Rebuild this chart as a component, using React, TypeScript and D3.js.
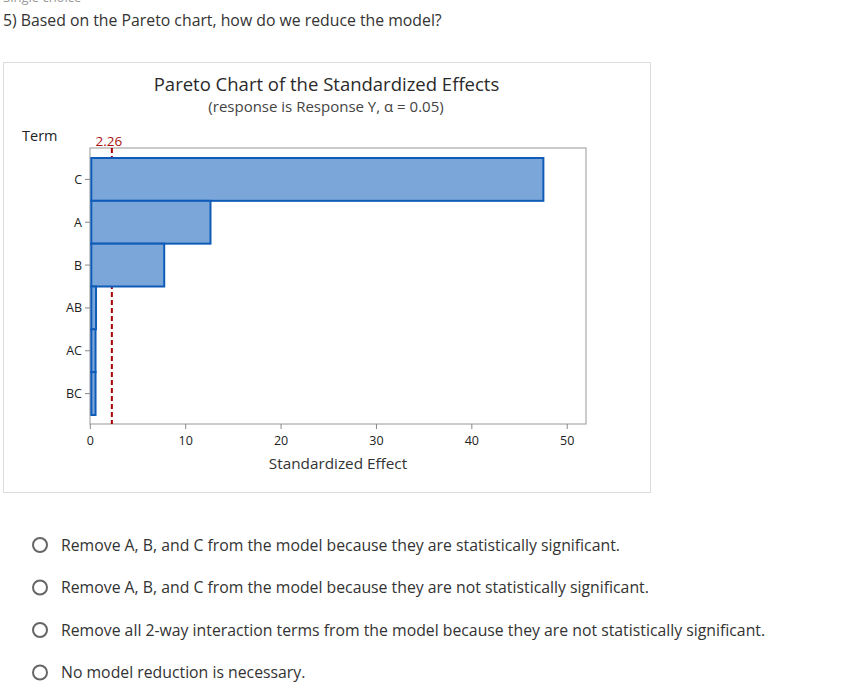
import React from "react";
import * as d3 from "d3";

const terms = ["C", "A", "B", "AB", "AC", "BC"];
const effects = [47.5, 12.6, 7.75, 0.6, 0.55, 0.55];
const xTicks = [0, 10, 20, 30, 40, 50];
const critical = 2.26;
const title = "Pareto Chart of the Standardized Effects";
const subtitle = "(response is Response Y, \u03b1 = 0.05)";
const question = "5) Based on the Pareto chart, how do we reduce the model?";
const options = [
  "Remove A, B, and C from the model because they are statistically significant.",
  "Remove A, B, and C from the model because they are not statistically significant.",
  "Remove all 2-way interaction terms from the model because they are not statistically significant.",
  "No model reduction is necessary.",
];

const FONT = "'Open Sans', 'Noto Sans', sans-serif";

export default function App() {
  const plot = { left: 90, right: 586, top: 148, bottom: 424 };
  const x = d3.scaleLinear().domain([0, 52]).range([plot.left + 0.3, plot.right + 0.3]);
  const y = d3
    .scaleBand<string>()
    .domain(terms)
    .range([plot.top + 10, plot.bottom - 9])
    .paddingInner(0)
    .paddingOuter(0);
  const xc = x(critical);

  return (
    <div style={{ position: "absolute", left: 0, top: 0, width: 846, height: 692, background: "#fff" }}>
      <svg width={846} height={692} style={{ display: "block" }} fontFamily={FONT}>
        <text x={3} y={2} fontSize={13} fill="#999">Single choice</text>
        <text x={3} y={26} fontSize={15.8} fill="#333">{question}</text>

        {/* chart frame */}
        <rect x={3.5} y={62.5} width={647} height={430} fill="#fff" stroke="#dcdcdc" strokeWidth={1} />
        <text x={326.5} y={91} textAnchor="middle" fontSize={18.5} fill="#2a2a2a">{title}</text>
        <text x={326} y={112} textAnchor="middle" fontSize={15} fill="#444">{subtitle}</text>
        <text x={22} y={141} fontSize={14.5} fill="#222">Term</text>

        {/* plot border */}
        <rect x={plot.left} y={plot.top} width={plot.right - plot.left} height={plot.bottom - plot.top}
          fill="#fff" stroke="#a8a8a8" strokeWidth={1.2} />

        {/* critical line */}
        <line x1={xc} x2={xc} y1={plot.top} y2={plot.bottom} stroke="#a80000" strokeWidth={2} strokeDasharray="5,3" />
        <text x={xc - 3} y={146} textAnchor="middle" fontSize={13.5} fill="#a11">{critical.toFixed(2)}</text>

        {/* bars */}
        {terms.map((t, i) => (
          <rect key={t} x={x(0) + 1} y={y(t)!} width={x(effects[i]) - x(0) - 1} height={y.bandwidth()}
            fill="#7ba6d9" stroke="#0f5cb8" strokeWidth={2} />
        ))}

        {/* y axis ticks + labels */}
        {terms.map((t) => {
          const cy = y(t)! + y.bandwidth() / 2;
          return (
            <g key={t}>
              <line x1={plot.left - 5} x2={plot.left} y1={cy} y2={cy} stroke="#888" />
              <text x={plot.left - 8} y={cy + 4.5} textAnchor="end" fontSize={12.5} fill="#222">{t}</text>
            </g>
          );
        })}

        {/* x axis ticks + labels */}
        {xTicks.map((v) => (
          <g key={v}>
            <line x1={x(v)} x2={x(v)} y1={plot.bottom} y2={plot.bottom + 5} stroke="#888" />
            <text x={x(v)} y={plot.bottom + 21} textAnchor="middle" fontSize={12.5} fill="#222">{v}</text>
          </g>
        ))}
        <text x={338} y={469} textAnchor="middle" fontSize={15.3} fill="#333">Standardized Effect</text>

        {/* options */}
        {options.map((o, i) => {
          const cy = 545 + i * 42.5;
          return (
            <g key={i}>
              <circle cx={40} cy={cy} r={7} fill="#fff" stroke="#666" strokeWidth={2} />
              <text x={61} y={cy + 5.5} fontSize={15.8} fill="#333">{o}</text>
            </g>
          );
        })}
      </svg>
    </div>
  );
}
